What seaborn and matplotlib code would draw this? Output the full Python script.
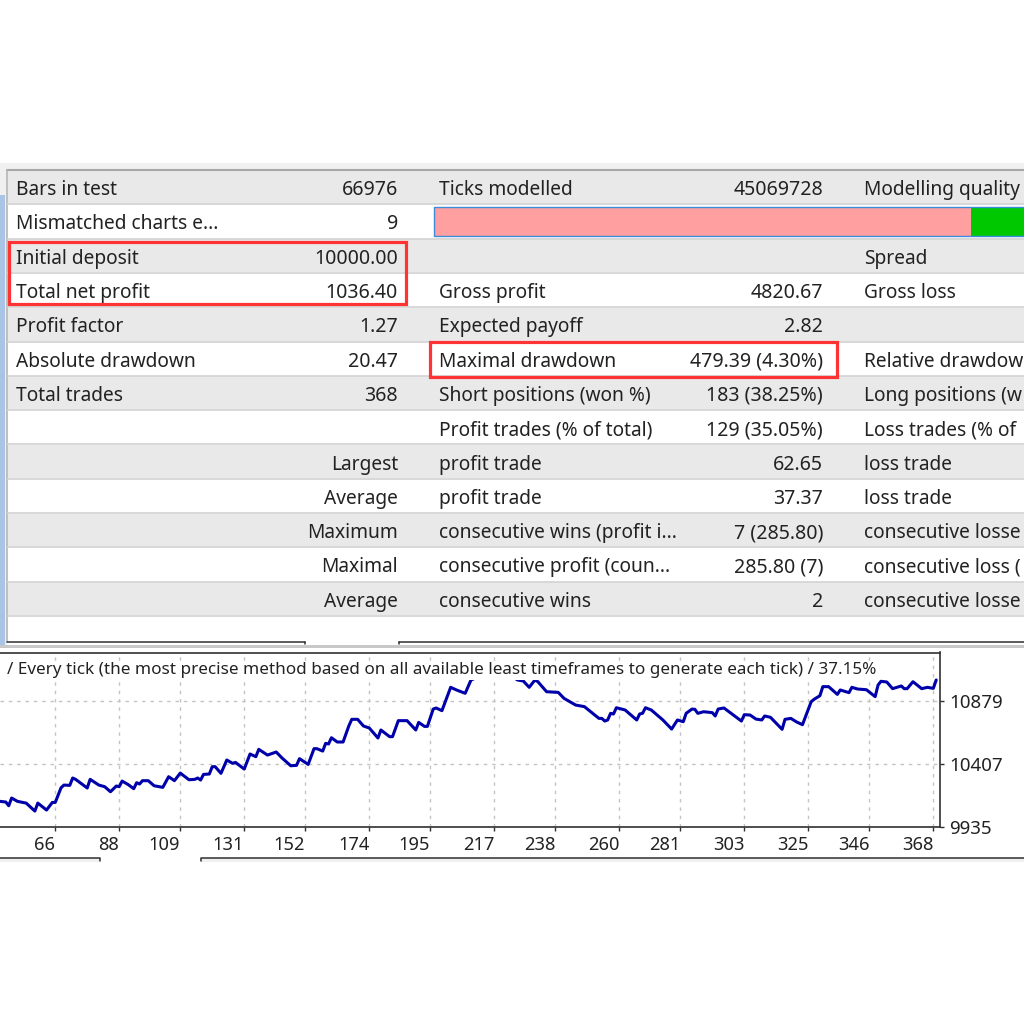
import matplotlib
matplotlib.use("Agg")
import matplotlib.pyplot as plt
from matplotlib.patches import Rectangle
from matplotlib.transforms import ScaledTranslation
import pandas as pd
import seaborn as sns

# ---------- data ----------
row_left_labels = ["Bars in test", "Mismatched charts e...", "Initial deposit", "Total net profit",
                   "Profit factor", "Absolute drawdown", "Total trades", "", "", "", "", "", ""]
row_right_labels = ["", "", "", "", "", "", "", "", "Largest", "Average", "Maximum", "Maximal", "Average"]
row_left_values = ["66976", "9", "10000.00", "1036.40", "1.27", "20.47", "368", "", "", "", "", "", ""]
row_mid_labels = ["Ticks modelled", "", "", "Gross profit", "Expected payoff", "Maximal drawdown",
                  "Short positions (won %)", "Profit trades (% of total)", "profit trade", "profit trade",
                  "consecutive wins (profit i...", "consecutive profit (coun...", "consecutive wins"]
row_mid_values = ["45069728", "", "", "4820.67", "2.82", "479.39 (4.30%)", "183 (38.25%)", "129 (35.05%)",
                  "62.65", "37.37", "7 (285.80)", "285.80 (7)", "2"]
row_far_labels = ["Modelling quality", "", "Spread", "Gross loss", "", "Relative drawdow",
                  "Long positions (w", "Loss trades (% of", "loss trade", "loss trade",
                  "consecutive losse", "consecutive loss (", "consecutive losse"]

caption = "/ Every tick (the most precise method based on all available least timeframes to generate each tick) / 37.15%"

x_tick_values = [66, 88, 109, 131, 152, 174, 195, 217, 238, 260, 281, 303, 325, 346, 368]
y_tick_values = [9935, 10407, 10879]

trades = [47, 49, 50, 51, 53, 56, 59, 60, 63, 65, 66, 68, 69, 71, 72, 73, 77, 78, 81, 83, 85, 87, 88, 89, 91, 93,
          94, 95, 96, 98, 100, 103, 105, 107, 109, 112, 114, 115, 116, 117, 119, 120, 121, 123, 125, 127, 128,
          131, 133, 135, 136, 139, 142, 144, 147, 149, 150, 153, 155, 156, 158, 159, 160, 161, 163, 165, 167,
          168, 170, 172, 174, 177, 178, 181, 182, 184, 187, 190, 191, 193, 194, 196, 197, 199, 202, 204, 207,
          209, 215, 222, 225, 227, 229, 231, 232, 235, 239, 241, 243, 245, 248, 252, 253, 254, 255, 256, 257,
          258, 259, 262, 266, 267, 268, 269, 271, 275, 278, 280, 282, 283, 285, 286, 287, 289, 292, 293, 294,
          296, 302, 303, 305, 307, 309, 310, 312, 316, 317, 319, 321, 323, 326, 327, 329, 330, 332, 335, 336,
          338, 339, 340, 342, 345, 348, 349, 350, 352, 354, 357, 358, 359, 361, 364, 366, 368, 369]
balance = [10125, 10120, 10092, 10150, 10125, 10112, 10052, 10112, 10060, 10117, 10117, 10227, 10247, 10245,
           10300, 10290, 10225, 10290, 10247, 10235, 10197, 10240, 10235, 10277, 10252, 10220, 10265, 10255,
           10280, 10280, 10242, 10230, 10310, 10280, 10337, 10287, 10290, 10300, 10285, 10327, 10330, 10385,
           10385, 10335, 10435, 10410, 10417, 10367, 10480, 10460, 10515, 10472, 10495, 10450, 10392, 10395,
           10445, 10402, 10520, 10520, 10502, 10560, 10555, 10602, 10570, 10570, 10692, 10740, 10740, 10690,
           10675, 10600, 10660, 10610, 10610, 10730, 10730, 10660, 10717, 10687, 10687, 10817, 10825, 10805,
           10980, 10960, 10935, 11035, 11090, 11080, 11035, 11027, 10980, 11035, 11022, 10947, 10942, 10897,
           10872, 10847, 10835, 10765, 10747, 10747, 10727, 10735, 10785, 10780, 10827, 10810, 10735, 10780,
           10785, 10827, 10810, 10735, 10667, 10735, 10722, 10785, 10817, 10815, 10785, 10797, 10790, 10765,
           10817, 10825, 10727, 10775, 10772, 10742, 10735, 10765, 10755, 10665, 10740, 10747, 10720, 10700,
           10872, 10890, 10917, 10985, 10985, 10927, 10960, 10947, 10940, 10980, 10967, 10962, 10910, 10997,
           11025, 11020, 10970, 10990, 10970, 10970, 11022, 10970, 10980, 10972, 11035]

# ---------- style ----------
sns.set_theme(style="white")
plt.rcParams["font.family"] = ["Noto Sans", "DejaVu Sans"]
TXT = "#222222"
TS = 13.8
VS = 14.1
CS = 13.2

fig = plt.figure(figsize=(10.24, 10.24), dpi=100, facecolor="white")
bg = fig.add_axes([0, 0, 1, 1], zorder=0)
bg.set_xlim(0, 1024)
bg.set_ylim(1024, 0)
bg.axis("off")

# window background and left strip
bg.add_patch(Rectangle((0, 163), 1024, 7, fc="#F0F0F0", ec="none"))
bg.add_patch(Rectangle((0, 170), 7, 475, fc="#F0F0F0", ec="none"))
bg.add_patch(Rectangle((0, 195), 5, 450, fc="#A9C4E4", ec="none"))

# table rows
top = 170.0
rh = 34.3
bg.plot([7, 1024], [top, top], color="#A8A8A8", lw=1.5)
bg.plot([7, 7], [top, 642], color="#B4B4B4", lw=1.2)
for i in range(13):
    y = top + i * rh
    if i % 2 == 0:
        bg.add_patch(Rectangle((7.5, y + 0.5), 1017, rh - 1, fc="#E9E9E9", ec="none"))
    bg.plot([7.5, 1024], [y + rh, y + rh], color="#D6D6D6", lw=1.3)
    yc = y + rh / 2 + 3.0
    kw = dict(va="center", fontsize=TS, color=TXT)
    kv = dict(va="center", fontsize=VS, color=TXT)
    if row_left_labels[i]:
        bg.text(16, yc, row_left_labels[i], ha="left", **kw)
    if row_left_values[i]:
        bg.text(398, yc, row_left_values[i], ha="right", **kv)
    if row_right_labels[i]:
        bg.text(398, yc, row_right_labels[i], ha="right", **kw)
    if row_mid_labels[i]:
        bg.text(439, yc, row_mid_labels[i], ha="left", **kw)
    if row_mid_values[i]:
        bg.text(823, yc, row_mid_values[i], ha="right", **kv)
    if row_far_labels[i]:
        bg.text(864, yc, row_far_labels[i], ha="left", **kw)

# quality bar
bg.add_patch(Rectangle((434, 206.5), 537, 29.5, fc="#FF9F9F", ec="none"))
bg.add_patch(Rectangle((971, 206.5), 53, 29.5, fc="#00C800", ec="none"))
bg.plot([1024, 434, 434, 1024], [206.5, 206.5, 236, 236], color="#3C8CDC", lw=1.0)

# red highlight boxes
bg.add_patch(Rectangle((9, 241.5), 397, 62.5, fc="none", ec="#FF3333", lw=2.3, zorder=5))
bg.add_patch(Rectangle((429.5, 342), 407, 34.5, fc="none", ec="#FF3333", lw=2.3, zorder=5))

# tab outlines and separators
bg.plot([7, 305], [641.5, 641.5], color="#303030", lw=1.1)
bg.plot([305, 305], [641.5, 644], color="#303030", lw=1.1)
bg.plot([399, 1024], [641.5, 641.5], color="#303030", lw=1.1)
bg.plot([399, 399], [641.5, 644], color="#303030", lw=1.1)
bg.add_patch(Rectangle((0, 645), 1024, 3, fc="#C8C8C8", ec="none"))
bg.add_patch(Rectangle((0, 857.5), 100, 4, fc="#F0F0F0", ec="none"))
bg.add_patch(Rectangle((200, 857.5), 824, 4, fc="#F0F0F0", ec="none"))
bg.plot([0, 99.5, 99.5], [857.5, 857.5, 861], color="#303030", lw=1.1)
bg.plot([200.5, 200.5, 1024], [861, 857.5, 857.5], color="#303030", lw=1.1)

# balance chart
L, R, T, B = 0.0, 939.7, 652.5, 826.7
ax = fig.add_axes([L / 1024, 1 - B / 1024, (R - L) / 1024, (B - T) / 1024], zorder=2, facecolor="white")
df = pd.DataFrame({"trade": trades, "balance": balance})
sns.lineplot(data=df, x="trade", y="balance", ax=ax, color="#0000AA", lw=2.2, sort=False,
             estimator=None, zorder=3)
ax.set_xlim(47.0, 370.2)
ax.set_ylim(9935, 11241)
ax.set_xlabel("")
ax.set_ylabel("")
ax.set_xticks(x_tick_values)
ax.set_xticklabels([str(v) for v in x_tick_values], ha="right", fontsize=CS, color=TXT)
ax.yaxis.tick_right()
ax.set_yticks(y_tick_values)
ax.set_yticklabels([str(v) for v in y_tick_values], fontsize=CS + 0.3, color=TXT, va="center")
ax.tick_params(axis="x", length=3, width=1, color="#303030", bottom=True, pad=3.5)
ax.tick_params(axis="y", length=3, width=1, color="#303030", right=True, left=False, pad=4)
shift = ScaledTranslation(0, -2.2 / 100, fig.dpi_scale_trans)
for lab in ax.get_yticklabels():
    lab.set_transform(lab.get_transform() + shift)
ax.grid(True, ls=(0, (2.5, 3.5)), color="#C4C4C4", lw=1.0)
ax.set_axisbelow(True)
ax.spines["left"].set_visible(False)
for s in ("top", "bottom", "right"):
    ax.spines[s].set_visible(True)
    ax.spines[s].set_color("#303030")
    ax.spines[s].set_linewidth(1.2)
ax.add_patch(Rectangle((0, 1 - 27.5 / 174.2), 876 / 939.7, 19.5 / 174.2, transform=ax.transAxes,
                       fc="white", ec="none", zorder=4))
ax.text(7 / 939.7, 1 - 17.5 / 174.2, caption, transform=ax.transAxes, ha="left", va="center",
        fontsize=12.3, color=TXT, zorder=5)

fig.savefig("out.png", dpi=100)
